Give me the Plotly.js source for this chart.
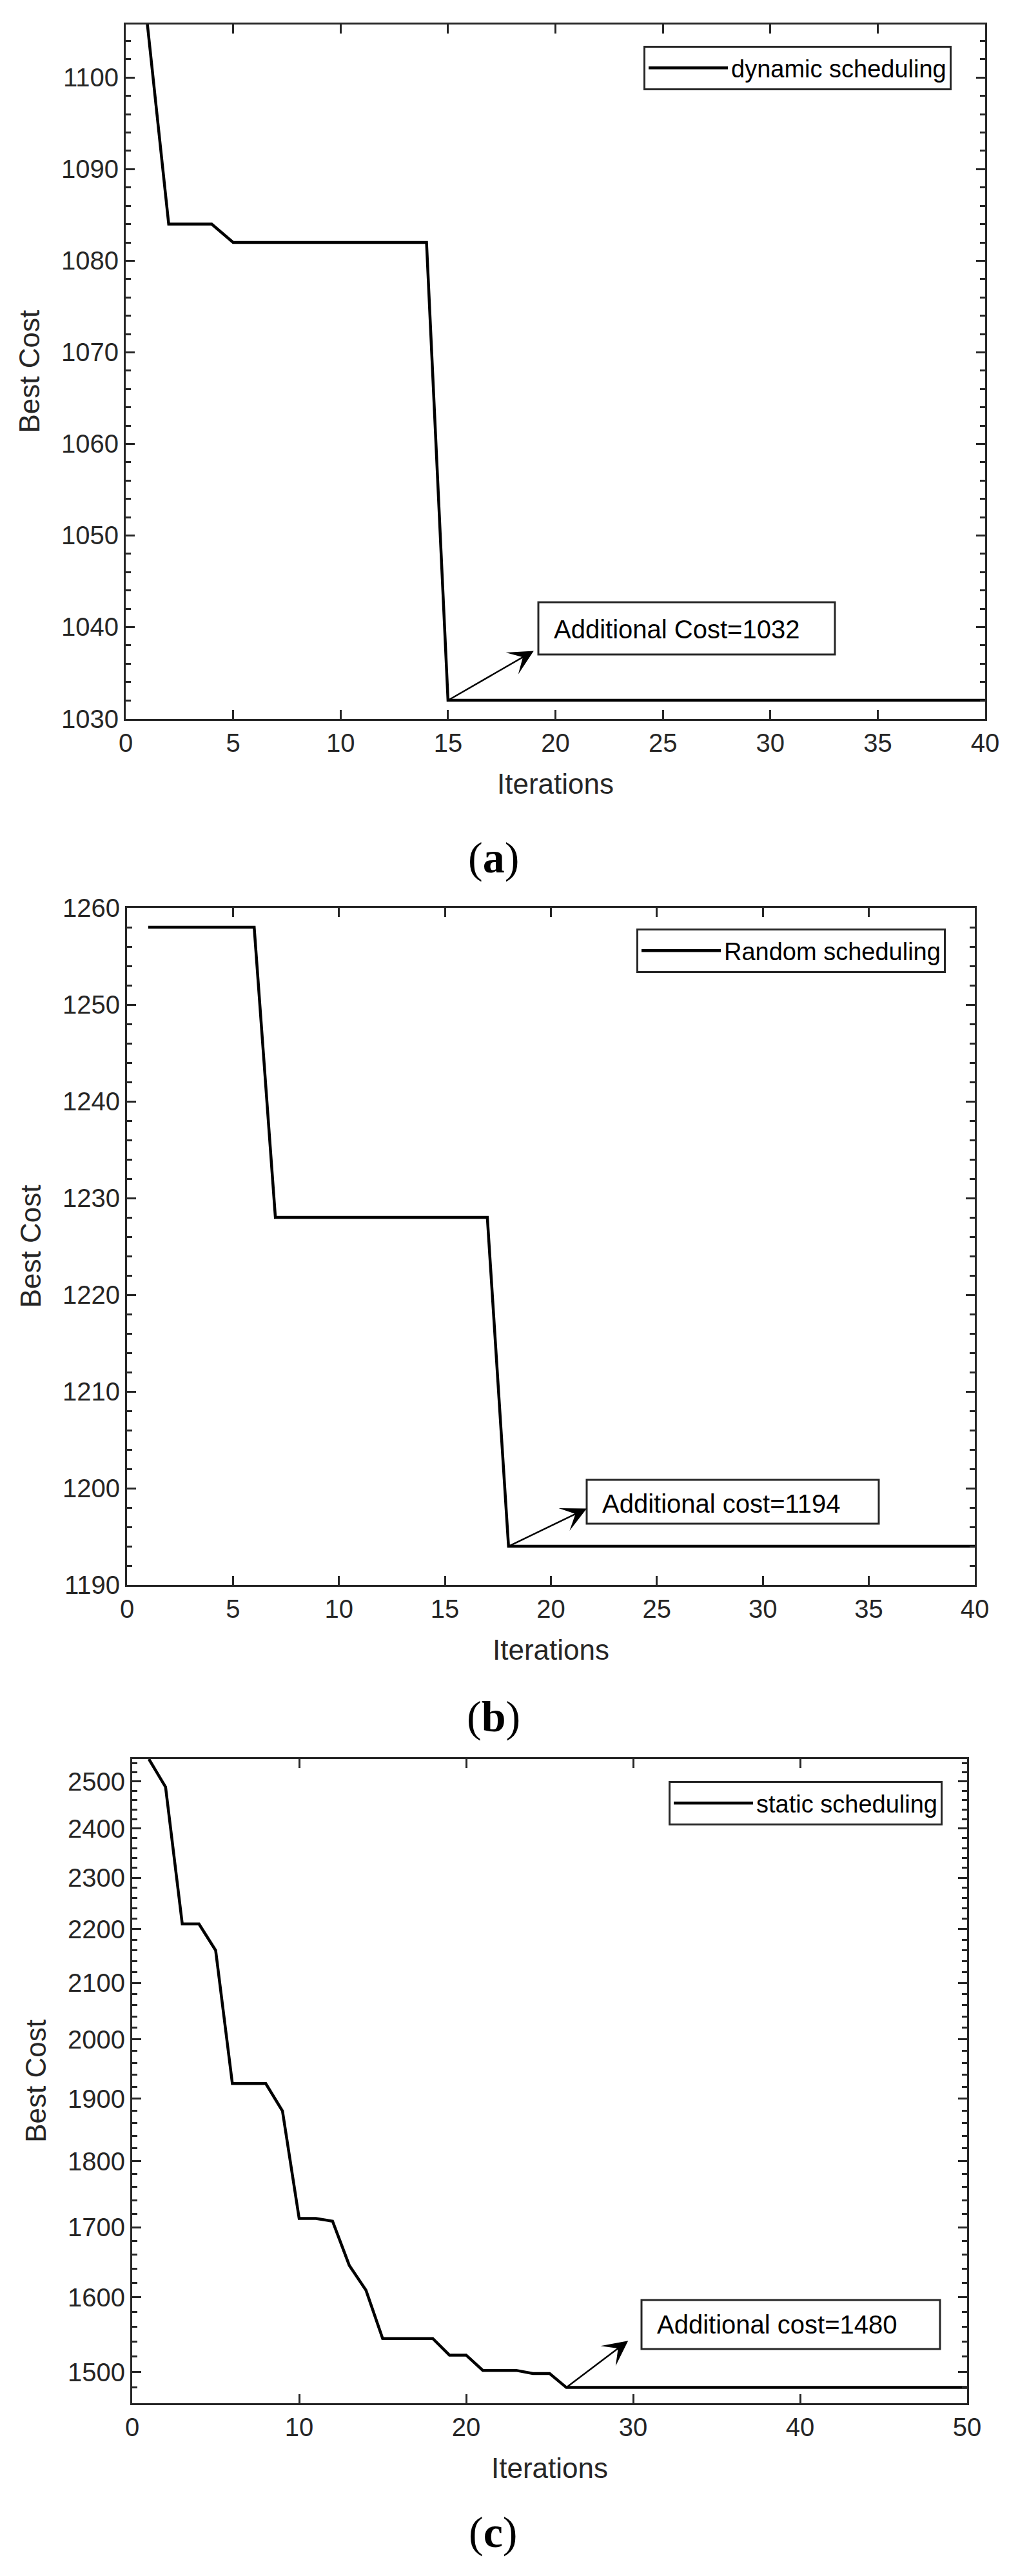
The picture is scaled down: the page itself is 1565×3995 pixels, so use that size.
<!DOCTYPE html>
<html>
<head>
<meta charset="utf-8">
<script src="https://cdn.plot.ly/plotly-3.0.1.min.js"></script>
<style>html,body{margin:0;padding:0;background:#fff;}#chart{width:1565px;height:3995px;}</style>
</head>
<body>
<div id="chart"></div>
<script>
// ---------- data ----------
const iterA = [1,2,3,4,5,6,7,8,9,10,11,12,13,14,15,16,17,18,19,20,21,22,23,24,25,26,27,28,29,30,31,32,33,34,35,36,37,38,39,40];
const costA = [1106,1084,1084,1084,1082,1082,1082,1082,1082,1082,1082,1082,1082,1082,1032,1032,1032,1032,1032,1032,1032,1032,1032,1032,1032,1032,1032,1032,1032,1032,1032,1032,1032,1032,1032,1032,1032,1032,1032,1032];
const iterB = [1,2,3,4,5,6,7,8,9,10,11,12,13,14,15,16,17,18,19,20,21,22,23,24,25,26,27,28,29,30,31,32,33,34,35,36,37,38,39,40];
const costB = [1258,1258,1258,1258,1258,1258,1228,1228,1228,1228,1228,1228,1228,1228,1228,1228,1228,1194,1194,1194,1194,1194,1194,1194,1194,1194,1194,1194,1194,1194,1194,1194,1194,1194,1194,1194,1194,1194,1194,1194];
const iterC = [1,2,3,4,5,6,7,8,9,10,11,12,13,14,15,16,17,18,19,20,21,22,23,24,25,26,27,28,29,30,31,32,33,34,35,36,37,38,39,40,41,42,43,44,45,46,47,48,49,50];
const costC = [2549,2488,2210,2210,2160,1925,1925,1925,1880,1713,1713,1709,1645,1610,1544,1544,1544,1544,1522,1522,1502,1502,1502,1498,1498,1480,1480,1480,1480,1480,1480,1480,1480,1480,1480,1480,1480,1480,1480,1480,1480,1480,1480,1480,1480,1480,1480,1480,1480,1480];
const seriesNames = ['dynamic scheduling','Random scheduling','static scheduling'];
const noteTexts = ['Additional Cost=1032','Additional cost=1194','Additional cost=1480'];
const panelLetters = ['a','b','c'];
const ticksAX = [0,5,10,15,20,25,30,35,40];
const ticksAY = [1030,1040,1050,1060,1070,1080,1090,1100];
const ticksBY = [1190,1200,1210,1220,1230,1240,1250,1260];
const ticksCX = [0,10,20,30,40,50];
const ticksCY = [1500,1600,1700,1800,1900,2000,2100,2200,2300,2400,2500];
const minorCY = [1460,1480,1520,1540,1560,1580,1620,1640,1660,1680,1720,1740,1760,1780,1820,1840,1860,1880,1920,1940,1960,1980,2020,2040,2060,2080,2120,2140,2160,2180,2220,2240,2260,2280,2320,2340,2360,2380,2420,2440,2460,2480,2520,2540];

// ---------- style ----------
const W = 1565, H = 3995;
const FONT = 'Liberation Sans, Arial, Helvetica, sans-serif';
const AX = '#262626';
const px = v => v / W;
const py = v => 1 - v / H;

function axisBase(extra) {
  return Object.assign({
    showline: true, linewidth: 3, linecolor: AX, mirror: 'ticks',
    ticks: 'inside', ticklen: 14, tickwidth: 3, tickcolor: AX,
    showgrid: false, zeroline: false,
    tickfont: {family: FONT, size: 40, color: AX},
    fixedrange: true
  }, extra);
}
const minorLin = d => ({dtick: d, ticks: 'inside', ticklen: 8, tickwidth: 3, tickcolor: AX, showgrid: false});

const lineStyle = {color: '#000000', width: 4.5};
const traces = [
  {x: iterA, y: costA, type: 'scatter', mode: 'lines', name: seriesNames[0], line: lineStyle, xaxis: 'x', yaxis: 'y', legend: 'legend', hoverinfo: 'x+y'},
  {x: iterB, y: costB, type: 'scatter', mode: 'lines', name: seriesNames[1], line: lineStyle, xaxis: 'x2', yaxis: 'y2', legend: 'legend2', hoverinfo: 'x+y'},
  {x: iterC, y: costC, type: 'scatter', mode: 'lines', name: seriesNames[2], line: lineStyle, xaxis: 'x3', yaxis: 'y3', legend: 'legend3', hoverinfo: 'x+y'}
];

const xTitle = {text: 'Iterations', font: {family: FONT, size: 44, color: AX}, standoff: 28};
const yTitle = {text: 'Best Cost', font: {family: FONT, size: 44, color: AX}, standoff: 20};

function legendAt(left, top) {
  return {x: px(left), y: py(top), xanchor: 'left', yanchor: 'top', xref: 'paper', yref: 'paper',
    bgcolor: '#ffffff', bordercolor: AX, borderwidth: 3,
    font: {family: FONT, size: 38, color: '#000000'}, itemwidth: 123, itemclick: false, itemdoubleclick: false};
}

const boxes = [
  [835, 934, 1295, 1015],
  [910, 2295, 1363, 2363],
  [995, 3567, 1458, 3643]
];
const shapes = boxes.map(b => ({type: 'rect', xref: 'paper', yref: 'paper',
  x0: px(b[0]), x1: px(b[2]), y0: py(b[3]), y1: py(b[1]),
  line: {color: AX, width: 3}, fillcolor: '#ffffff', layer: 'above'}));

const textPos = [[857, 976], [932, 2332], [1017, 3605]];
const annotations = [];
noteTexts.forEach((t, i) => {
  annotations.push({text: t, xref: 'paper', yref: 'paper', x: px(textPos[i][0]), y: py(textPos[i][1]),
    xanchor: 'left', yanchor: 'middle', showarrow: false, font: {family: FONT, size: 40, color: '#000000'}});
});
// arrows from the final point to the note box
const arrowStyle = {text: '', showarrow: true, arrowhead: 3, arrowsize: 2.6, arrowwidth: 2.5, arrowcolor: '#000000', standoff: 0, startstandoff: 0};
const arrowHeads = [[18.99, 1037.4, 'x', 'y', 15, 1032], [21.69, 1197.9, 'x2', 'y2', 18, 1194]];
arrowHeads.forEach(a => annotations.push(Object.assign({x: a[0], y: a[1], xref: a[2], yref: a[3], ax: a[4], ay: a[5], axref: a[2], ayref: a[3]}, arrowStyle)));
annotations.push(Object.assign({x: 29.70, y: Math.log10(1541), xref: 'x3', yref: 'y3', ax: 26, ay: Math.log10(1480), axref: 'x3', ayref: 'y3'}, arrowStyle));

const letterY = [1330, 2662, 3927];
panelLetters.forEach((l, i) => annotations.push({text: '(<b>' + l + '</b>)', xref: 'paper', yref: 'paper', x: px(765), y: py(letterY[i]),
  xanchor: 'center', yanchor: 'middle', showarrow: false, font: {family: 'Liberation Serif, DejaVu Serif, serif', size: 68, color: '#000000'}}));

const layout = {
  width: W, height: H,
  margin: {l: 0, r: 0, t: 0, b: 0},
  paper_bgcolor: '#ffffff', plot_bgcolor: '#ffffff',
  font: {family: FONT, color: AX},
  showlegend: true,
  xaxis: axisBase({domain: [px(195), px(1528)], anchor: 'y', range: [0, 40], tickmode: 'array', tickvals: ticksAX, title: xTitle}),
  yaxis: axisBase({domain: [py(1114.5), py(38)], anchor: 'x', range: [1030, 1105.8], tickmode: 'array', tickvals: ticksAY, minor: minorLin(2), title: yTitle}),
  xaxis2: axisBase({domain: [px(197), px(1512)], anchor: 'y2', range: [0, 40], tickmode: 'array', tickvals: ticksAX, title: xTitle}),
  yaxis2: axisBase({domain: [py(2458), py(1408)], anchor: 'x2', range: [1190, 1260], tickmode: 'array', tickvals: ticksBY, minor: minorLin(2), title: yTitle}),
  xaxis3: axisBase({domain: [px(205), px(1500)], anchor: 'y3', range: [0, 50], tickmode: 'array', tickvals: ticksCX, title: xTitle}),
  yaxis3: axisBase({domain: [py(3727), py(2728)], anchor: 'x3', type: 'log', range: [Math.log10(1460), Math.log10(2549)],
    tickmode: 'array', tickvals: ticksCY, ticktext: ticksCY.map(String),
    minor: {tickmode: 'array', tickvals: minorCY, ticks: 'inside', ticklen: 8, tickwidth: 3, tickcolor: AX, showgrid: false}, title: yTitle}),
  legend: legendAt(998, 71),
  legend2: legendAt(987, 1440),
  legend3: legendAt(1037, 2762),
  shapes: shapes,
  annotations: annotations
};

Plotly.newPlot('chart', traces, layout, {displayModeBar: false, staticPlot: false, responsive: false});
</script>
</body>
</html>
